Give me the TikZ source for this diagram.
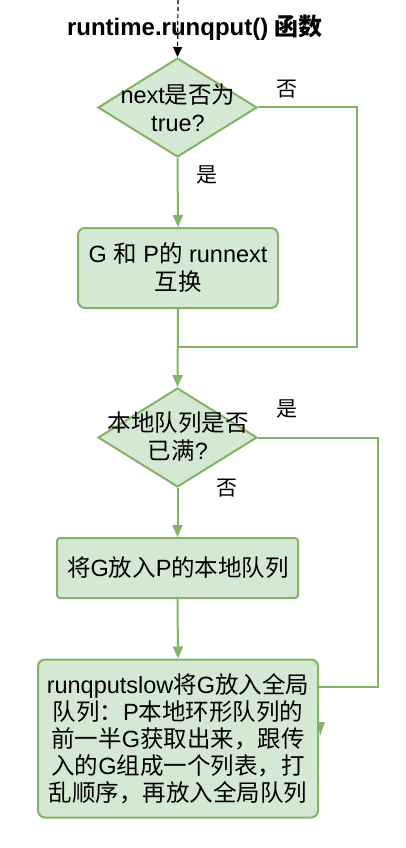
\documentclass[tikz,border=0pt]{standalone}
\usepackage{fontspec}
\setmainfont{Liberation Sans}
\newfontfamily\cjk{Noto Sans CJK SC}
\usetikzlibrary{shapes.geometric,arrows.meta}
\definecolor{gfill}{HTML}{D5E8D4}
\definecolor{gline}{HTML}{82B366}
\tikzset{
  dia/.style={diamond,draw=gline,fill=gfill,line width=2pt,inner sep=0pt,minimum width=159pt,minimum height=99pt},
  box/.style={rectangle,draw=gline,fill=gfill,line width=2pt,inner sep=0pt,rounded corners=7pt,align=center},
  txt/.style={align=center,inner sep=0pt,font=\fontsize{23.5}{28}\selectfont},
  lbl/.style={inner sep=0pt,font=\fontsize{21}{24}\selectfont\cjk},
  conn/.style={draw=gline,line width=2pt},
  arr/.style={conn,-{Triangle[length=12pt,width=10pt]},shorten >=0pt}
}
\begin{document}
\begin{tikzpicture}[x=1pt,y=-1pt]
\useasboundingbox[fill=white] (0,0) rectangle (406,848);
% title
\node[inner sep=0pt,font=\fontsize{24}{26}\selectfont\bfseries] (title) at (195,28) {runtime.runqput() {\cjk\bfseries 函数}};
% diamond 1
\node[dia] (d1) at (177.5,107.5) {};
\node[txt] (d1t) at (178,108) {next{\cjk 是否为}\\true?};
% box 1
\node[box,minimum width=200pt,minimum height=80pt] (b1) at (178,268) {};
\node[txt] (b1t) at (178,268) {G {\cjk 和} P{\cjk 的} runnext\\{\cjk 互换}};
% diamond 2
\node[dia] (d2) at (177.5,437.5) {};
\node[txt] (d2t) at (178,437) {{\cjk 本地队列是否}\\{\cjk 已满}?};
% box 2
\node[box,rounded corners=3pt,minimum width=241pt,minimum height=60pt] (b2) at (177.5,568) {};
\node[txt] (b2t) at (178,568) {{\cjk 将}G{\cjk 放入}P{\cjk 的本地队列}};
% box 3
\node[box,minimum width=280pt,minimum height=158pt] (b3) at (178,738.5) {};
\node[txt,font=\fontsize{23.5}{27}\selectfont] (b3t) at (178,739) {runqputslow{\cjk 将}G{\cjk 放入全局}\\{\cjk 队列：}P{\cjk 本地环形队列的}\\{\cjk 前一半}G{\cjk 获取出来，跟传}\\{\cjk 入的}G{\cjk 组成一个列表，打}\\{\cjk 乱顺序，再放入全局队列}};
% labels
\node[lbl] (l1) at (287,89) {否};
\node[lbl] (l2) at (207,175) {是};
\node[lbl] (l3) at (287,409) {是};
\node[lbl] (l4) at (227,488) {否};
% connectors
\coordinate (start) at (178,0);
\draw[line width=1.2pt,dash pattern=on 4pt off 3pt,-{Triangle[length=10pt,width=9pt]}] (start) -- (d1.north);
\draw[arr] (d1.south) -- (b1.north);
\coordinate (c1) at (357,347);
\coordinate (j1) at (178,347);
\draw[conn] (d1.east) -| (c1) -- (j1);
\draw[arr] (b1.south) -- (d2.north);
\draw[arr] (d2.south) -- (b2.north);
\draw[arr] (b2.south) -- (b3.north);
\coordinate (c2) at (378,687);
\draw[conn] (d2.east) -| (c2) -- (b3.east |- c2);
% stray arrowhead
\fill[gline] (318,722) -- (325,722) -- (320,736) -- cycle;
\end{tikzpicture}
\end{document}
